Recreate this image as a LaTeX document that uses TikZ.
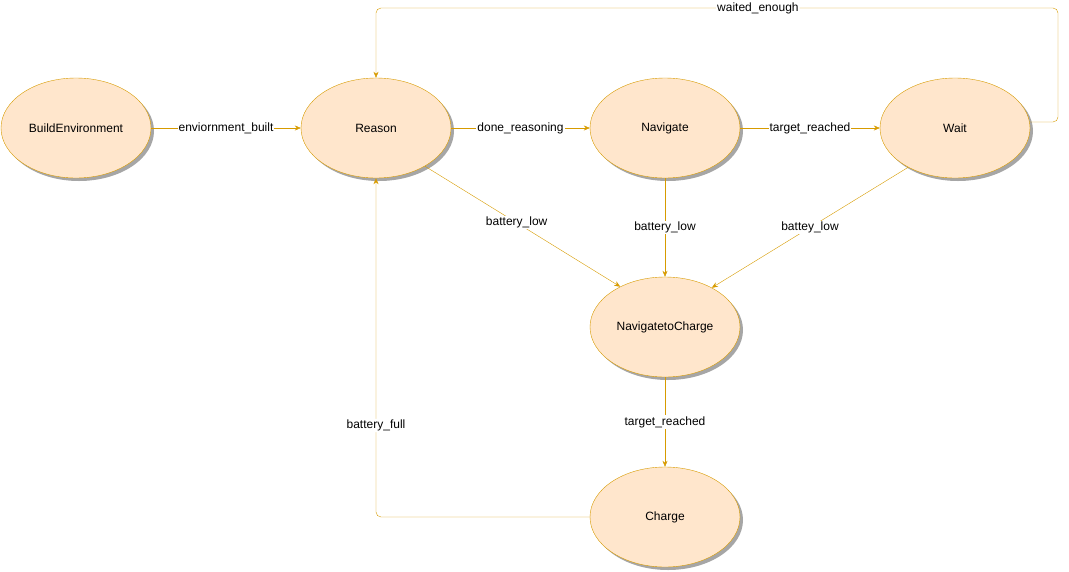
\documentclass[tikz,border=0pt]{standalone}
\usepackage{fontspec}
\setmainfont{Liberation Sans}
\usetikzlibrary{shadows,arrows.meta,shapes.geometric}
\definecolor{fillc}{HTML}{FFE6CC}
\definecolor{linec}{HTML}{D79B00}
\begin{document}
\begin{tikzpicture}[x=1pt,y=-1pt,
  state/.style={ellipse,draw=linec,fill=fillc,minimum width=150pt,minimum height=100pt,inner sep=0pt,
    font=\fontsize{12}{14}\selectfont,drop shadow={shadow xshift=3pt,shadow yshift=-3pt,fill=black!35,opacity=1}},
  tr/.style={draw=linec,-{Stealth[length=6pt,width=5pt]}},
  lab/.style={fill=white,inner sep=1pt,font=\fontsize{12}{14}\selectfont}]
\useasboundingbox (0,0) rectangle (1069,571);
\node[state] (b) at (76,128) {BuildEnvironment};
\node[state] (r) at (376,128) {Reason};
\node[state] (n) at (665,128) {Navigate};
\node[state] (w) at (955,128) {Wait};
\node[state] (nc) at (665,327) {NavigatetoCharge};
\node[state] (c) at (665,517) {Charge};
\draw[tr] (b) -- node[lab]{enviornment\_built} (r);
\draw[tr] (r) -- node[lab]{done\_reasoning} (n);
\draw[tr] (n) -- node[lab]{target\_reached} (w);
\draw[tr] (n) -- node[lab,pos=0.5]{battery\_low} (nc);
\draw[tr] (r.-38) -- node[lab,pos=0.47]{battery\_low} (nc.138);
\draw[tr] (w.-140) -- node[lab,pos=0.5]{battey\_low} (nc.40);
\draw[tr] (nc) -- node[lab]{target\_reached} (c);
\coordinate (w1) at (1058,122);
\coordinate (w2) at (1058,8);
\coordinate (w3) at (376,8);
\draw[tr,rounded corners=5pt] (w.east |- w1) -- (w1) -- (w2) -- node[lab,pos=0.44]{waited\_enough} (w3) -- (r.north);
\coordinate (c1) at (376,517);
\draw[tr,rounded corners=5pt] (c.west) -- (c1) -- node[lab,pos=0.27]{battery\_full} (r.south);
\end{tikzpicture}
\end{document}
